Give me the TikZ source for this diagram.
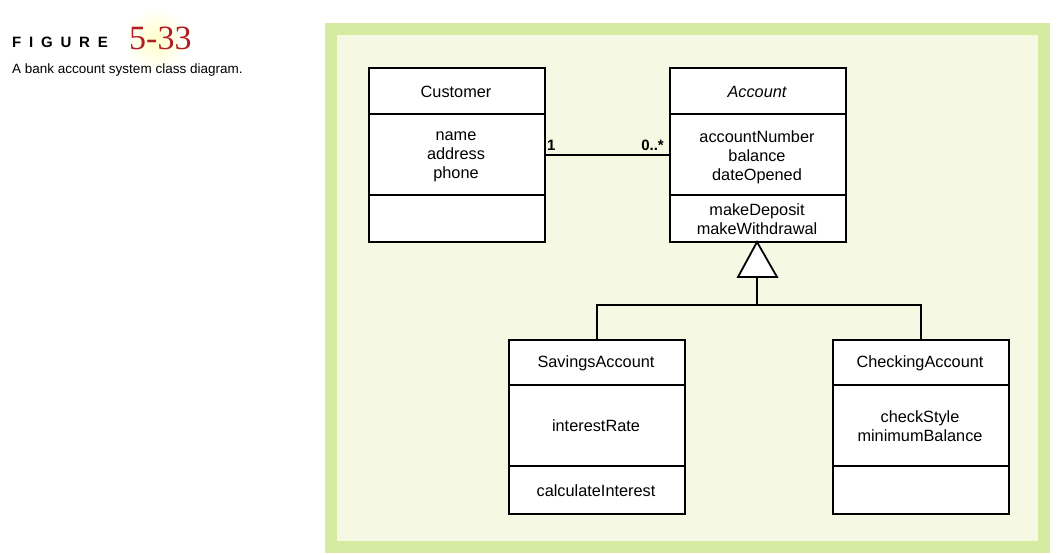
\documentclass[tikz,border=0pt]{standalone}
\usepackage{fontspec}
\setmainfont{Liberation Sans}
\newfontfamily\serifred{Liberation Serif}
\definecolor{panelouter}{HTML}{D6EBA2}
\definecolor{panelinner}{HTML}{F5F9E4}
\definecolor{figred}{HTML}{B31B23}
\begin{document}
\begin{tikzpicture}[x=1pt,y=-1pt,
  classbox/.style={draw=black, line width=1.8pt, fill=white, minimum width=176pt, minimum height=174pt, anchor=north west, inner sep=0pt},
  divider/.style={line width=1.8pt},
  conn/.style={line width=1.8pt},
  lbl/.style={font=\fontsize{16.3}{19}\selectfont, align=center, inner sep=0pt},
  mult/.style={font=\fontsize{15}{18}\selectfont\bfseries, inner sep=0pt}
]
\useasboundingbox (0,0) rectangle (1057,554);
\fill[white] (0,0) rectangle (1057,554);
% figure label
\shade[inner color=yellow!22, outer color=white] (156,40) circle (32);
\node[anchor=base west, inner sep=0pt, font=\fontsize{15}{17}\selectfont\bfseries\addfontfeature{LetterSpace=52}] (figword) at (12,47) {FIGURE};
\node[anchor=base west, inner sep=0pt, text=figred, font=\serifred\fontsize{34}{36}\selectfont] (fignum) at (129,49) {5-33};
\node[anchor=base west, inner sep=0pt, font=\fontsize{13.5}{15}\selectfont] (caption) at (12,73) {A bank account system class diagram.};
% panel
\fill[panelouter] (325,23) rectangle (1050,553);
\fill[panelinner] (337,35) rectangle (1038,541);
% classes
\node[classbox] (cust) at (368,67) {};
\draw[divider] (368,114) -- (544,114) (368,195) -- (544,195);
\node[lbl] (custname) at (456,92) {Customer};
\node[lbl] (custattr) at (456,157) {name\\address\\phone};

\node[classbox] (acct) at (669,67) {};
\draw[divider] (669,114) -- (845,114) (669,195) -- (845,195);
\node[lbl] (acctname) at (757,92) {\itshape Account};
\node[lbl] (acctattr) at (757,157) {accountNumber\\balance\\dateOpened};
\node[lbl] (acctops) at (757,219) {makeDeposit\\makeWithdrawal};

\node[classbox] (sav) at (508,339) {};
\draw[divider] (508,385) -- (684,385) (508,466) -- (684,466);
\node[lbl] (savname) at (596,363) {SavingsAccount};
\node[lbl] (savattr) at (596,426) {interestRate};
\node[lbl] (savops) at (596,491) {calculateInterest};

\node[classbox] (chk) at (832,339) {};
\draw[divider] (832,385) -- (1008,385) (832,466) -- (1008,466);
\node[lbl] (chkname) at (920,363) {CheckingAccount};
\node[lbl] (chkattr) at (920,426) {checkStyle\\minimumBalance};

% association
\coordinate (assocL) at (544,155);
\coordinate (assocR) at (669,155);
\draw[conn] (assocL) -- (assocR);
\node[mult, anchor=base west] (m1) at (547,150) {1};
\node[mult, anchor=base east] (m2) at (664,150) {0..*};

% generalization
\coordinate (triTop) at (757,242);
\coordinate (triBase) at (757,277);
\coordinate (junction) at (757,305);
\draw[conn, fill=white, line join=miter] (triTop) -- (738,277) -- (777,277) -- cycle;
\draw[conn] (triBase) -- (junction);
\draw[conn] (sav.north) |- (junction) -| (chk.north);
\end{tikzpicture}
\end{document}
